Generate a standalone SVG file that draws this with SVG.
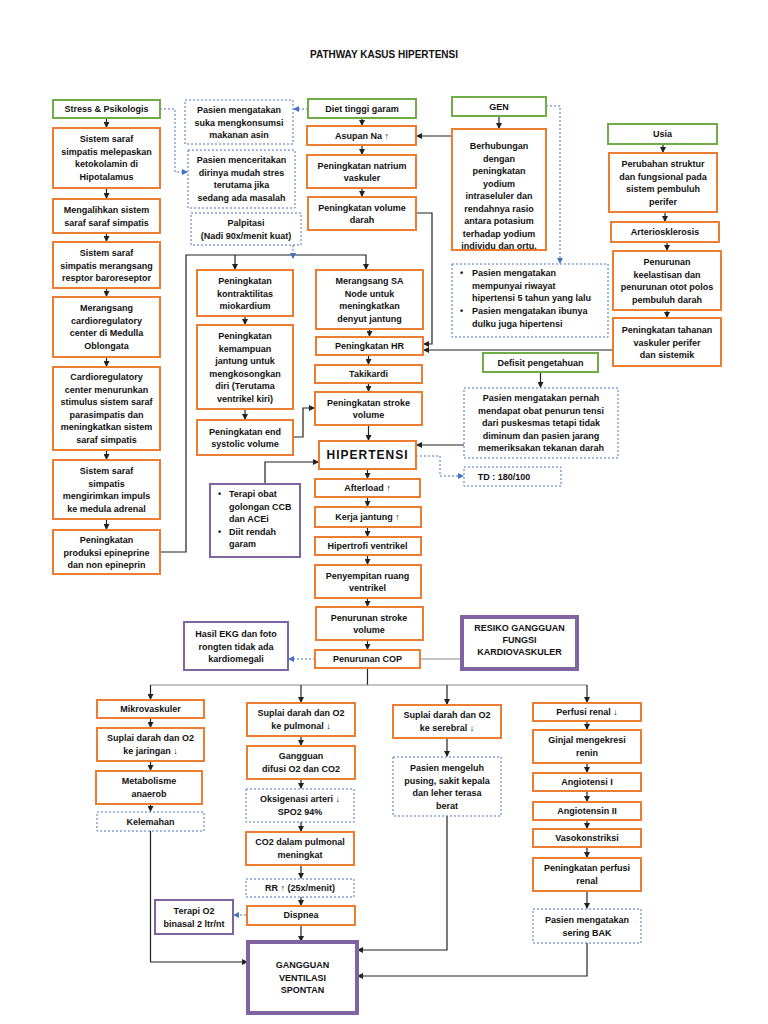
<svg xmlns="http://www.w3.org/2000/svg" width="768" height="1024" viewBox="0 0 768 1024">
<style>
rect{fill:#fff}
.o{stroke:#ED7D31;stroke-width:2}
.g{stroke:#70AD47;stroke-width:2}
.d{stroke:#4472C4;stroke-width:1;stroke-dasharray:2,2}
.p{stroke:#8064A2;stroke-width:2}
.pp{stroke:#8064A2;stroke-width:4}
text{font-family:"Liberation Sans",Arial,sans-serif;font-weight:bold;font-size:9px;fill:#111;text-anchor:middle}
.l{text-anchor:start}
.c path,.c line{fill:none;stroke:#222;stroke-width:1.2}
.c .b{stroke:#4472C4;stroke-dasharray:2,2;stroke-width:1}
.c .gr{stroke:#888}
</style>
<defs>
<marker id="a" markerWidth="6" markerHeight="6" refX="5" refY="3" orient="auto" markerUnits="userSpaceOnUse"><path d="M0,0L6,3L0,6z" fill="#222"/></marker>
<marker id="ab" markerWidth="6" markerHeight="6" refX="5" refY="3" orient="auto" markerUnits="userSpaceOnUse"><path d="M0,0L6,3L0,6z" fill="#4472C4"/></marker>
</defs>
<rect x="0" y="0" width="768" height="1024"/>
<text x="384" y="58" style="font-size:10px">PATHWAY KASUS HIPERTENSI</text>

<g class="c" id="connectors">
<!-- left column -->
<path d="M106.5 118V127" marker-end="url(#a)"/>
<path d="M106.5 188V198" marker-end="url(#a)"/>
<path d="M106.5 233V241" marker-end="url(#a)"/>
<path d="M106.5 288V296" marker-end="url(#a)"/>
<path d="M106.5 357V366" marker-end="url(#a)"/>
<path d="M106.5 450V459" marker-end="url(#a)"/>
<path d="M106.5 519V529" marker-end="url(#a)"/>
<path d="M160 552H186V255H366V269" marker-end="url(#a)"/>
<path d="M235 255V269" marker-end="url(#a)"/>
<path d="M245 316V324" marker-end="url(#a)"/>
<path d="M245 409V419" marker-end="url(#a)"/>
<path d="M293 437H303V408H314" marker-end="url(#a)"/>
<!-- dotted -->
<path class="b" d="M160 109H175V172H187" marker-end="url(#ab)"/>
<path class="b" d="M308 109H294" marker-end="url(#ab)"/>
<path class="b" d="M293 245V258" marker-end="url(#ab)"/>
<path class="b" d="M546 106H560V263" marker-end="url(#ab)"/>
<path class="b" d="M416 456H440V476H463" marker-end="url(#ab)"/>
<path class="b" d="M315 659H289" marker-end="url(#ab)"/>
<path class="b" d="M246 915H234" marker-end="url(#ab)"/>
<!-- center -->
<path d="M362 118V125" marker-end="url(#a)"/>
<path d="M362 145V154" marker-end="url(#a)"/>
<path d="M362 188V196" marker-end="url(#a)"/>
<path d="M416 213H432V344H424" marker-end="url(#a)"/>
<path d="M452 136H417" marker-end="url(#a)"/>
<path d="M369.5 329V336" marker-end="url(#a)"/>
<path d="M613 350H424" marker-end="url(#a)"/>
<path d="M368.5 355V364" marker-end="url(#a)"/>
<path d="M368.5 383V391" marker-end="url(#a)"/>
<path d="M368.5 425V440" marker-end="url(#a)"/>
<path d="M464 445H417" marker-end="url(#a)"/>
<path d="M265 484V462H318" marker-end="url(#a)"/>
<path d="M367.5 469V478" marker-end="url(#a)"/>
<path d="M367.5 497V506" marker-end="url(#a)"/>
<path d="M367.5 527V536" marker-end="url(#a)"/>
<path d="M367.5 555V564" marker-end="url(#a)"/>
<path d="M367.5 598V606" marker-end="url(#a)"/>
<path d="M367.5 640V649" marker-end="url(#a)"/>
<path class="gr" d="M420 659H462"/>
<!-- right -->
<path d="M499 116V128" marker-end="url(#a)"/>
<path d="M540.5 372V387" marker-end="url(#a)"/>
<path d="M663 144V152" marker-end="url(#a)"/>
<path d="M665 212V221" marker-end="url(#a)"/>
<path d="M667 242V250" marker-end="url(#a)"/>
<path d="M667 310V317" marker-end="url(#a)"/>
<!-- bottom -->
<path d="M367.5 668V685"/>
<path class="gr" d="M150.5 685H587"/>
<path d="M150.5 685V699" marker-end="url(#a)"/>
<path d="M301 685V702" marker-end="url(#a)"/>
<path d="M447 685V704" marker-end="url(#a)"/>
<path d="M587 685V702" marker-end="url(#a)"/>
<path d="M150.5 718V727" marker-end="url(#a)"/>
<path d="M150.5 761V770" marker-end="url(#a)"/>
<path d="M150.5 804V811" marker-end="url(#a)"/>
<path d="M150.5 831V962H247" marker-end="url(#a)"/>
<path d="M301 736V745" marker-end="url(#a)"/>
<path d="M301 779V788" marker-end="url(#a)"/>
<path d="M301 822V831" marker-end="url(#a)"/>
<path d="M301 865V878" marker-end="url(#a)"/>
<path d="M301 897V905" marker-end="url(#a)"/>
<path d="M301 925V941" marker-end="url(#a)"/>
<path d="M447 738V756" marker-end="url(#a)"/>
<path d="M447 816V950H358" marker-end="url(#a)"/>
<path d="M587 721V729" marker-end="url(#a)"/>
<path d="M587 763V772" marker-end="url(#a)"/>
<path d="M587 791V801" marker-end="url(#a)"/>
<path d="M587 820V828" marker-end="url(#a)"/>
<path d="M587 847V857" marker-end="url(#a)"/>
<path d="M587 891V908" marker-end="url(#a)"/>
<path d="M587 943V976H358" marker-end="url(#a)"/>
</g>

<g id="stress"><rect class="g" x="53" y="100" width="107" height="18"/><text x="106.5" y="112">Stress &amp; Psikologis</text></g>
<g id="n1"><rect class="o" x="53" y="128" width="107" height="60"/><text x="106.5" y="142"><tspan x="106.5">Sistem saraf</tspan><tspan x="106.5" dy="12.5">simpatis melepaskan</tspan><tspan x="106.5" dy="12.5">ketokolamin di</tspan><tspan x="106.5" dy="12.5">Hipotalamus</tspan></text></g>
<g id="n2"><rect class="o" x="53" y="199" width="107" height="34"/><text x="106.5" y="213"><tspan x="106.5">Mengalihkan sistem</tspan><tspan x="106.5" dy="12.5">saraf saraf simpatis</tspan></text></g>
<g id="n3"><rect class="o" x="53" y="242" width="107" height="46"/><text x="106.5" y="256"><tspan x="106.5">Sistem saraf</tspan><tspan x="106.5" dy="12.5">simpatis merangsang</tspan><tspan x="106.5" dy="12.5">resptor baroreseptor</tspan></text></g>
<g id="n4"><rect class="o" x="53" y="297" width="107" height="60"/><text x="106.5" y="311"><tspan x="106.5">Merangsang</tspan><tspan x="106.5" dy="12.5">cardioregulatory</tspan><tspan x="106.5" dy="12.5">center di Medulla</tspan><tspan x="106.5" dy="12.5">Oblongata</tspan></text></g>
<g id="n5"><rect class="o" x="53" y="367" width="107" height="83"/><text x="106.5" y="380"><tspan x="106.5">Cardioregulatory</tspan><tspan x="106.5" dy="12.5">center menurunkan</tspan><tspan x="106.5" dy="12.5">stimulus sistem saraf</tspan><tspan x="106.5" dy="12.5">parasimpatis dan</tspan><tspan x="106.5" dy="12.5">meningkatkan sistem</tspan><tspan x="106.5" dy="12.5">saraf simpatis</tspan></text></g>
<g id="n6"><rect class="o" x="53" y="460" width="107" height="59"/><text x="106.5" y="474"><tspan x="106.5">Sistem saraf</tspan><tspan x="106.5" dy="12.5">simpatis</tspan><tspan x="106.5" dy="12.5">mengirimkan impuls</tspan><tspan x="106.5" dy="12.5">ke medula adrenal</tspan></text></g>
<g id="n7"><rect class="o" x="53" y="530" width="107" height="44"/><text x="106.5" y="543"><tspan x="106.5">Peningkatan</tspan><tspan x="106.5" dy="12.5">produksi epineprine</tspan><tspan x="106.5" dy="12.5">dan non epineprin</tspan></text></g>

<g id="suka"><rect class="d" x="185" y="100" width="108" height="44"/><text x="239" y="113"><tspan x="239">Pasien mengatakan</tspan><tspan x="239" dy="12.5">suka mengkonsumsi</tspan><tspan x="239" dy="12.5">makanan asin</tspan></text></g>
<g id="stres"><rect class="d" x="188" y="150" width="107" height="58"/><text x="241.5" y="163"><tspan x="241.5">Pasien menceritakan</tspan><tspan x="241.5" dy="12.5">dirinya mudah stres</tspan><tspan x="241.5" dy="12.5">terutama jika</tspan><tspan x="241.5" dy="12.5">sedang ada masalah</tspan></text></g>
<g id="palpitasi"><rect class="d" x="191" y="213" width="110" height="32"/><text x="246" y="226"><tspan x="246">Palpitasi</tspan><tspan x="246" dy="12.5">(Nadi 90x/menit kuat)</tspan></text></g>

<g id="diet"><rect class="g" x="308" y="99" width="108" height="19"/><text x="362" y="112">Diet tinggi garam</text></g>
<g id="asupan"><rect class="o" x="307" y="126" width="109" height="19"/><text x="362" y="139">Asupan Na ↑</text></g>
<g id="natrium"><rect class="o" x="307" y="155" width="109" height="33"/><text x="362" y="168.5"><tspan x="362">Peningkatan natrium</tspan><tspan x="362" dy="12.5">vaskuler</tspan></text></g>
<g id="voldarah"><rect class="o" x="308" y="197" width="108" height="33"/><text x="362" y="210.5"><tspan x="362">Peningkatan volume</tspan><tspan x="362" dy="12.5">darah</tspan></text></g>
<g id="kontrak"><rect class="o" x="197" y="270" width="96" height="46"/><text x="245" y="284"><tspan x="245">Peningkatan</tspan><tspan x="245" dy="12.5">kontraktilitas</tspan><tspan x="245" dy="12.5">miokardium</tspan></text></g>
<g id="kemampuan"><rect class="o" x="197" y="325" width="96" height="84"/><text x="245" y="339"><tspan x="245">Peningkatan</tspan><tspan x="245" dy="12.5">kemampuan</tspan><tspan x="245" dy="12.5">jantung untuk</tspan><tspan x="245" dy="12.5">mengkosongkan</tspan><tspan x="245" dy="12.5">diri (Terutama</tspan><tspan x="245" dy="12.5">ventrikel kiri)</tspan></text></g>
<g id="esv"><rect class="o" x="197" y="420" width="96" height="35"/><text x="245" y="434.5"><tspan x="245">Peningkatan end</tspan><tspan x="245" dy="12.5">systolic volume</tspan></text></g>
<g id="sanode"><rect class="o" x="316" y="270" width="107" height="59"/><text x="369.5" y="284"><tspan x="369.5">Merangsang SA</tspan><tspan x="369.5" dy="12.5">Node untuk</tspan><tspan x="369.5" dy="12.5">meningkatkan</tspan><tspan x="369.5" dy="12.5">denyut jantung</tspan></text></g>
<g id="hr"><rect class="o" x="316" y="337" width="107" height="18"/><text x="369.5" y="349">Peningkatan HR</text></g>
<g id="takikardi"><rect class="o" x="315" y="365" width="107" height="18"/><text x="368.5" y="377">Takikardi</text></g>
<g id="stroke"><rect class="o" x="315" y="392" width="107" height="33"/><text x="368.5" y="405.5"><tspan x="368.5">Peningkatan stroke</tspan><tspan x="368.5" dy="12.5">volume</tspan></text></g>
<g id="hipertensi"><rect class="o" x="319" y="441" width="97" height="28"/><text x="367.5" y="459" style="font-size:12px;letter-spacing:1px">HIPERTENSI</text></g>
<g id="afterload"><rect class="o" x="315" y="479" width="105" height="18"/><text x="367.5" y="491">Afterload ↑</text></g>
<g id="kerja"><rect class="o" x="315" y="507" width="106" height="20"/><text x="367.5" y="520">Kerja jantung ↑</text></g>
<g id="hipertrofi"><rect class="o" x="315" y="537" width="106" height="18"/><text x="367.5" y="549">Hipertrofi ventrikel</text></g>
<g id="penyempitan"><rect class="o" x="315" y="565" width="106" height="33"/><text x="367.5" y="578.5"><tspan x="367.5">Penyempitan ruang</tspan><tspan x="367.5" dy="12.5">ventrikel</tspan></text></g>
<g id="penstroke"><rect class="o" x="316" y="607" width="107" height="33"/><text x="369" y="620.5"><tspan x="369">Penurunan stroke</tspan><tspan x="369" dy="12.5">volume</tspan></text></g>
<g id="cop"><rect class="o" x="315" y="650" width="105" height="18"/><text x="367.5" y="662">Penurunan COP</text></g>
<g id="terapi"><rect class="p" x="210" y="484" width="90" height="73"/><text class="l" y="497"><tspan x="218">•</tspan><tspan x="229">Terapi obat</tspan><tspan x="229" dy="12.5">golongan CCB</tspan><tspan x="229" dy="12.5">dan ACEi</tspan><tspan x="218" dy="12.5">•</tspan><tspan x="229">Diit rendah</tspan><tspan x="229" dy="12.5">garam</tspan></text></g>
<g id="ekg"><rect class="p" x="184" y="622" width="104" height="48"/><text x="236" y="637"><tspan x="236">Hasil EKG dan foto</tspan><tspan x="236" dy="12.5">rongten tidak ada</tspan><tspan x="236" dy="12.5">kardiomegali</tspan></text></g>
<g id="resiko"><rect class="pp" x="462" y="617" width="115" height="52"/><text x="519.5" y="631"><tspan x="519.5">RESIKO  GANGGUAN</tspan><tspan x="519.5" dy="12">FUNGSI</tspan><tspan x="519.5" dy="12">KARDIOVASKULER</tspan></text></g>
<g id="td"><rect class="d" x="464" y="467" width="97" height="19"/><text x="504" y="480">TD : 180/100</text></g>
<g id="defisit"><rect class="g" x="483" y="353" width="115" height="19"/><text x="540.5" y="366">Defisit pengetahuan</text></g>
<g id="pernah"><rect class="d" x="464" y="388" width="154" height="70"/><text x="541" y="401"><tspan x="541">Pasien mengatakan pernah</tspan><tspan x="541" dy="12.5">mendapat obat penurun tensi</tspan><tspan x="541" dy="12.5">dari puskesmas tetapi tidak</tspan><tspan x="541" dy="12.5">diminum dan pasien jarang</tspan><tspan x="541" dy="12.5">memeriksakan tekanan darah</tspan></text></g>
<g id="gen"><rect class="g" x="452" y="97" width="94" height="19"/><text x="499" y="110">GEN</text></g>
<g id="berhubungan"><rect class="o" x="452" y="129" width="94" height="121"/><text x="499" y="149"><tspan x="499">Berhubungan</tspan><tspan x="499" dy="12.5">dengan</tspan><tspan x="499" dy="12.5">peningkatan</tspan><tspan x="499" dy="12.5">yodium</tspan><tspan x="499" dy="12.5">intraseluler dan</tspan><tspan x="499" dy="12.5">rendahnya rasio</tspan><tspan x="499" dy="12.5">antara potasium</tspan><tspan x="499" dy="12.5">terhadap yodium</tspan><tspan x="499" dy="12.5">individu dan ortu.</tspan></text></g>
<g id="riwayat"><rect class="d" x="452" y="264" width="156" height="73"/><text class="l" y="276"><tspan x="460">•</tspan><tspan x="472">Pasien mengatakan</tspan><tspan x="472" dy="12.7">mempunyai riwayat</tspan><tspan x="472" dy="12.7">hipertensi 5 tahun yang lalu</tspan><tspan x="460" dy="12.7">•</tspan><tspan x="472">Pasien mengatakan ibunya</tspan><tspan x="472" dy="12.7">dulku juga hipertensi</tspan></text></g>
<g id="usia"><rect class="g" x="608" y="124" width="109" height="20"/><text x="662.5" y="137">Usia</text></g>
<g id="perubahan"><rect class="o" x="609" y="153" width="108" height="59"/><text x="663" y="167"><tspan x="663">Perubahan struktur</tspan><tspan x="663" dy="12.5">dan fungsional pada</tspan><tspan x="663" dy="12.5">sistem pembuluh</tspan><tspan x="663" dy="12.5">perifer</tspan></text></g>
<g id="arterio"><rect class="o" x="611" y="222" width="108" height="20"/><text x="665" y="235">Arteriosklerosis</text></g>
<g id="keelastisan"><rect class="o" x="613" y="251" width="108" height="59"/><text x="667" y="265"><tspan x="667">Penurunan</tspan><tspan x="667" dy="12.5">keelastisan dan</tspan><tspan x="667" dy="12.5">penurunan otot polos</tspan><tspan x="667" dy="12.5">pembuluh darah</tspan></text></g>
<g id="tahanan"><rect class="o" x="613" y="318" width="108" height="48"/><text x="667" y="333"><tspan x="667">Peningkatan tahanan</tspan><tspan x="667" dy="12.5">vaskuler perifer</tspan><tspan x="667" dy="12.5">dan sistemik</tspan></text></g>

<g id="mikro"><rect class="o" x="97" y="700" width="107" height="18"/><text x="150.5" y="712">Mikrovaskuler</text></g>
<g id="jaringan"><rect class="o" x="97" y="728" width="107" height="33"/><text x="150.5" y="741"><tspan x="150.5">Suplai darah dan O2</tspan><tspan x="150.5" dy="12.5">ke jaringan ↓</tspan></text></g>
<g id="metabolisme"><rect class="o" x="96" y="771" width="106" height="33"/><text x="149" y="784"><tspan x="149">Metabolisme</tspan><tspan x="149" dy="12.5">anaerob</tspan></text></g>
<g id="kelemahan"><rect class="d" x="97" y="812" width="107" height="19"/><text x="150.5" y="825">Kelemahan</text></g>
<g id="pulmonal"><rect class="o" x="247" y="703" width="108" height="33"/><text x="301" y="716"><tspan x="301">Suplai darah dan O2</tspan><tspan x="301" dy="12.5">ke pulmonal ↓</tspan></text></g>
<g id="difusi"><rect class="o" x="247" y="746" width="108" height="33"/><text x="301" y="759"><tspan x="301">Gangguan</tspan><tspan x="301" dy="12.5">difusi O2 dan CO2</tspan></text></g>
<g id="oksigenasi"><rect class="d" x="246" y="789" width="108" height="33"/><text x="300" y="802"><tspan x="300">Oksigenasi arteri ↓</tspan><tspan x="300" dy="12.5">SPO2 94%</tspan></text></g>
<g id="co2"><rect class="o" x="246" y="832" width="108" height="33"/><text x="300" y="845"><tspan x="300">CO2 dalam pulmonal</tspan><tspan x="300" dy="12.5">meningkat</tspan></text></g>
<g id="rr"><rect class="d" x="246" y="879" width="108" height="18"/><text x="300" y="891">RR ↑ (25x/menit)</text></g>
<g id="dispnea"><rect class="o" x="247" y="906" width="108" height="19"/><text x="301" y="918">Dispnea</text></g>
<g id="terapio2"><rect class="p" x="155" y="900" width="78" height="34"/><text x="194" y="914"><tspan x="194">Terapi O2</tspan><tspan x="194" dy="12.5">binasal 2 ltr/nt</tspan></text></g>
<g id="gangguan"><rect class="pp" x="248" y="942" width="109" height="71"/><text x="302.5" y="968"><tspan x="302.5">GANGGUAN</tspan><tspan x="302.5" dy="12.5">VENTILASI</tspan><tspan x="302.5" dy="12.5">SPONTAN</tspan></text></g>
<g id="serebral"><rect class="o" x="393" y="705" width="108" height="33"/><text x="447" y="718"><tspan x="447">Suplai darah dan O2</tspan><tspan x="447" dy="12.5">ke serebral ↓</tspan></text></g>
<g id="mengeluh"><rect class="d" x="393" y="757" width="108" height="59"/><text x="447" y="771"><tspan x="447">Pasien mengeluh</tspan><tspan x="447" dy="12.5">pusing, sakit kepala</tspan><tspan x="447" dy="12.5">dan leher terasa</tspan><tspan x="447" dy="12.5">berat</tspan></text></g>
<g id="renal"><rect class="o" x="533" y="703" width="108" height="18"/><text x="587" y="715">Perfusi renal ↓</text></g>
<g id="ginjal"><rect class="o" x="533" y="730" width="108" height="33"/><text x="587" y="743"><tspan x="587">Ginjal mengekresi</tspan><tspan x="587" dy="12.5">renin</tspan></text></g>
<g id="angio1"><rect class="o" x="533" y="773" width="108" height="18"/><text x="587" y="785">Angiotensi I</text></g>
<g id="angio2"><rect class="o" x="533" y="802" width="108" height="18"/><text x="587" y="814">Angiotensin II</text></g>
<g id="vaso"><rect class="o" x="533" y="829" width="108" height="18"/><text x="587" y="841">Vasokonstriksi</text></g>
<g id="perfusi"><rect class="o" x="533" y="858" width="108" height="33"/><text x="587" y="871"><tspan x="587">Peningkatan perfusi</tspan><tspan x="587" dy="12.5">renal</tspan></text></g>
<g id="bak"><rect class="d" x="533" y="909" width="108" height="34"/><text x="587" y="923"><tspan x="587">Pasien mengatakan</tspan><tspan x="587" dy="12.5">sering BAK</tspan></text></g>
</svg>
